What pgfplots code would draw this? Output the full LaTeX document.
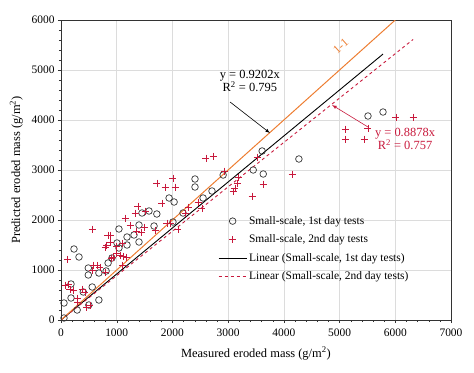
\documentclass[border=0pt]{standalone}
\usepackage{fontspec}
\setmainfont{Liberation Serif}
\usepackage{pgfplots}
\pgfplotsset{compat=1.18}
\definecolor{oneone}{RGB}{237,125,49}
\definecolor{redc}{RGB}{200,25,60}
\definecolor{gridc}{RGB}{220,220,220}
\begin{document}
\begin{tikzpicture}
\begin{axis}[
  scale only axis, width=390bp, height=300bp,
  xmin=0, xmax=7000, ymin=0, ymax=6000,
  xtick={0,1000,...,7000}, ytick={0,1000,...,6000},
  minor tick num=4,
  tick align=outside, xtick pos=bottom, ytick pos=left,
  major tick length=3bp, minor tick length=2bp,
  grid=major, major grid style={gridc, line width=0.6pt},
  axis line style={black!80, line width=0.9pt},
  tick style={black!80},
  /pgf/number format/assume math mode=true,
  /pgf/number format/1000 sep={},
  tick label style={font=\fontsize{11.5}{13}\selectfont},
  xticklabel style={yshift=-2bp},
  label style={font=\fontsize{12.5}{14}\selectfont},
  xlabel={Measured eroded mass (g/m\textsuperscript{2})},
  ylabel={Predicted eroded mass (g/m\textsuperscript{2})},
  xlabel style={yshift=-4bp},
  ylabel style={yshift=2bp},
  legend style={draw=none, fill=none, at={(0.40,0.356)}, anchor=north west,
    font=\fontsize{11.5}{13}\selectfont, row sep=5bp, inner sep=1bp},
  legend cell align=left,
  legend image code/.code={\draw[mark repeat=2,mark phase=2,#1] plot coordinates {(0bp,0bp) (14bp,0bp) (28bp,0bp)};},
]
\addplot[only marks, mark=o, mark size=3.3bp, black!80, mark options={line width=0.7pt}] coordinates {
(54,40) (54,340) (180,440) (180,720) (233,1420) (290,200) (323,1260) (400,560)
(490,1040) (490,900) (500,300) (560,660) (680,940) (680,400) (810,980) (845,1140)
(915,1240) (1005,1540) (1040,1440) (1040,1820) (1185,1500) (1185,1660) (1310,1700)
(1400,1560) (1400,1900) (1454,2140) (1580,2180) (1670,1880) (1720,2120) (1940,2440)
(2030,2360) (2010,1960) (2190,2140) (2405,2660) (2405,2820) (2550,2440) (2710,2580)
(2910,2900) (3450,3000) (3630,2920) (3610,3380) (4270,3220) (5510,4080) (5780,4160)
};
\addlegendentry{Small-scale, 1st day tests}
\addplot[only marks, mark=+, mark size=3.5bp, redc, mark options={line width=0.6pt}] coordinates {
(72,700) (120,1220) (130,720) (160,620) (220,600) (300,440) (300,360) (380,620)
(430,560) (460,260) (520,300) (560,1820) (560,1000) (580,1100) (660,1100) (700,1060)
(790,1460) (790,960) (820,1500) (840,1700) (880,1700) (880,1560) (910,1240) (930,1260)
(1000,1480) (1000,1340) (1060,1300) (1100,1100) (1100,1540) (1110,1280) (1150,2040)
(1180,1260) (1240,1900) (1330,2140) (1350,1780) (1380,2280) (1440,1760) (1490,1860)
(1510,2180) (1690,1800) (1720,2740) (1810,2340) (1870,2660) (1900,1940) (1970,1940)
(2010,2840) (2050,2660) (2100,1820) (2230,2140) (2280,2260) (2460,2360) (2530,2240)
(2600,3240) (2730,3280) (2940,2980) (3090,2580) (3120,2640) (3160,2740) (3180,2860)
(3430,2480) (3520,3260) (3630,2720) (4150,2920) (5100,3820) (5100,3620) (5440,3620)
(5510,3840) (6010,4060) (6320,4060)
};
\addlegendentry{Small-scale, 2nd day tests}
\addplot[black, line width=0.9pt] coordinates {(0,0) (5780,5319)};
\addlegendentry{Linear (Small-scale, 1st day tests)}
\addplot[redc, dashed, line width=0.9pt] coordinates {(0,0) (6320,5611)};
\addlegendentry{Linear (Small-scale, 2nd day tests)}
\addplot[oneone, line width=1pt, forget plot] coordinates {(0,0) (6000,6000)};
\node[oneone, rotate=41.9, font=\fontsize{12}{13}\selectfont] at (axis cs:5020,5480) {1-1};
\node[align=center, font=\fontsize{12.5}{13.5}\selectfont] at (axis cs:3390,4780) {y = 0.9202x\\R\textsuperscript{2} = 0.795};
\draw[-latex, line width=0.6pt] (axis cs:3035,4360) -- (axis cs:3750,3740);
\node[align=center, redc, font=\fontsize{12.5}{13.5}\selectfont] at (axis cs:6175,3620) {y = 0.8878x\\R\textsuperscript{2} = 0.757};
\draw[-latex, redc, line width=0.6pt] (axis cs:5510,3860) -- (axis cs:4865,4300);
\coordinate (sw) at (rel axis cs:0,0);
\end{axis}
\pgfresetboundingbox
\path (sw) ++(-61bp,-53bp) rectangle ++(474bp,373bp);
\end{tikzpicture}
\end{document}
